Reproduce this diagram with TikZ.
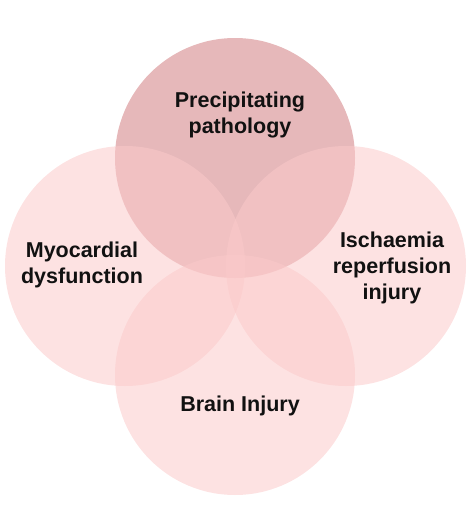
\documentclass[tikz,border=0pt]{standalone}
\usepackage{fontspec}
\setmainfont{Liberation Sans}
\definecolor{topfill}{RGB}{230,184,186}
\definecolor{lightfill}{RGB}{251,202,202}
\definecolor{labeltext}{RGB}{17,17,17}
\begin{document}
\begin{tikzpicture}[x=1pt,y=-1pt,
  topcircle/.style={circle,minimum size=240pt,inner sep=0pt,fill=topfill},
  softcircle/.style={circle,minimum size=240pt,inner sep=0pt,fill=lightfill,fill opacity=0.55},
  lbl/.style={align=center,inner sep=0pt,text=labeltext,font=\fontsize{21.5}{26}\selectfont\bfseries}]
\useasboundingbox (0,0) rectangle (474,525);
\node[topcircle] (ctop) at (235,158) {};
\node[softcircle] (cleft) at (125,266) {};
\node[softcircle] (cright) at (346,266) {};
\node[softcircle] (cbottom) at (235,375) {};
\node[lbl] (ltop) at (240,114.5) {Precipitating\\pathology};
\node[lbl] (lleft) at (82,265) {Myocardial\\dysfunction};
\node[lbl] (lright) at (392,268) {Ischaemia\\reperfusion\\injury};
\node[lbl] (lbottom) at (240,406) {Brain Injury};
\end{tikzpicture}
\end{document}
